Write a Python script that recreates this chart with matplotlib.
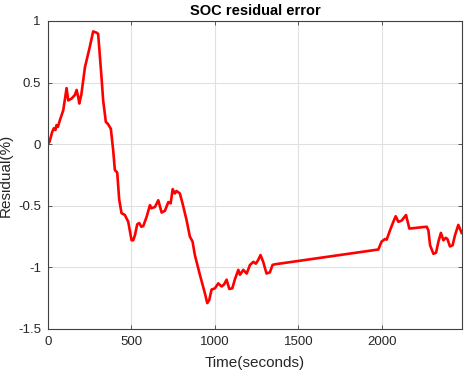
import matplotlib
matplotlib.use("Agg")
import matplotlib.pyplot as plt

time_s = [2, 10, 26, 36, 45, 52, 60, 72, 92, 112, 122, 142, 162, 172, 182, 188, 200, 222, 251, 271, 291, 301,
          321, 331, 347, 359, 377, 391, 401, 415, 427, 441, 461, 481, 501, 511, 521, 535, 547, 559, 571, 591,
          611, 620, 641, 661, 681, 701, 721, 735, 747, 760, 770, 790, 806, 830, 850, 866, 880, 910, 940, 954,
          966, 980, 1000, 1020, 1040, 1054, 1070, 1086, 1104, 1120, 1140, 1150, 1170, 1190, 1210, 1230, 1245,
          1259, 1273, 1289, 1309, 1329, 1345, 1359, 1978, 1998, 2018, 2028, 2048, 2068, 2082, 2098, 2118, 2144,
          2164, 2268, 2278, 2288, 2308, 2324, 2338, 2353, 2368, 2382, 2392, 2407, 2423, 2437, 2457, 2477]
residual = [0.005, 0.02, 0.10, 0.13, 0.115, 0.155, 0.14, 0.195, 0.275, 0.455, 0.355, 0.37, 0.40, 0.44, 0.38,
            0.33, 0.40, 0.625, 0.79, 0.915, 0.905, 0.895, 0.545, 0.355, 0.18, 0.165, 0.125, -0.05, -0.21, -0.23,
            -0.45, -0.56, -0.575, -0.63, -0.78, -0.78, -0.74, -0.65, -0.64, -0.67, -0.665, -0.59, -0.495, -0.52,
            -0.51, -0.455, -0.555, -0.54, -0.47, -0.48, -0.365, -0.40, -0.38, -0.40, -0.48, -0.615, -0.75, -0.79,
            -0.90, -1.06, -1.21, -1.29, -1.265, -1.18, -1.17, -1.13, -1.155, -1.14, -1.10, -1.175, -1.17, -1.095,
            -1.02, -1.06, -1.02, -1.05, -0.98, -0.955, -0.97, -0.94, -0.90, -0.955, -1.05, -1.04, -0.98, -0.975,
            -0.855, -0.79, -0.77, -0.775, -0.70, -0.63, -0.585, -0.63, -0.62, -0.575, -0.685, -0.67, -0.70, -0.82,
            -0.89, -0.88, -0.79, -0.72, -0.78, -0.76, -0.77, -0.83, -0.82, -0.74, -0.655, -0.72]

x_ticks = [0, 500, 1000, 1500, 2000]
y_ticks = [-1.5, -1, -0.5, 0, 0.5, 1]
y_ticklabels = ["-1.5", "-1", "-0.5", "0", "0.5", "1"]

plt.rcParams['font.family'] = ['Liberation Sans', 'DejaVu Sans']

fig = plt.figure(figsize=(4.74, 3.81), dpi=100)
ax = fig.add_axes([0.101, 0.1365, 0.874, 0.8085])
ax.plot(time_s, residual, color='#ff0000', linewidth=1.9, solid_joinstyle='round')
ax.set_xlim(0, 2480)
ax.set_ylim(-1.5, 1)
ax.set_xticks(x_ticks)
ax.set_xticklabels([str(t) for t in x_ticks])
ax.set_yticks(y_ticks)
ax.set_yticklabels(y_ticklabels)
ax.grid(True, color='#e0e0e0', linewidth=0.8)
ax.set_axisbelow(True)
ax.tick_params(direction='in', length=3, width=0.6, color='#404040', labelsize=9.5,
               labelcolor='#262626', top=True, right=True, pad=5)
for sp in ax.spines.values():
    sp.set_color('#404040')
    sp.set_linewidth(0.8)
ax.set_title('SOC residual error', fontsize=10.5, fontweight='bold', pad=4)
ax.set_xlabel('Time(seconds)', fontsize=11, color='#262626', labelpad=6)
fig.text(0.013, 0.54, 'Residual(%)', rotation=90, ha='center', va='center', fontsize=11, color='#262626')
fig.savefig('out.png', dpi=100)
